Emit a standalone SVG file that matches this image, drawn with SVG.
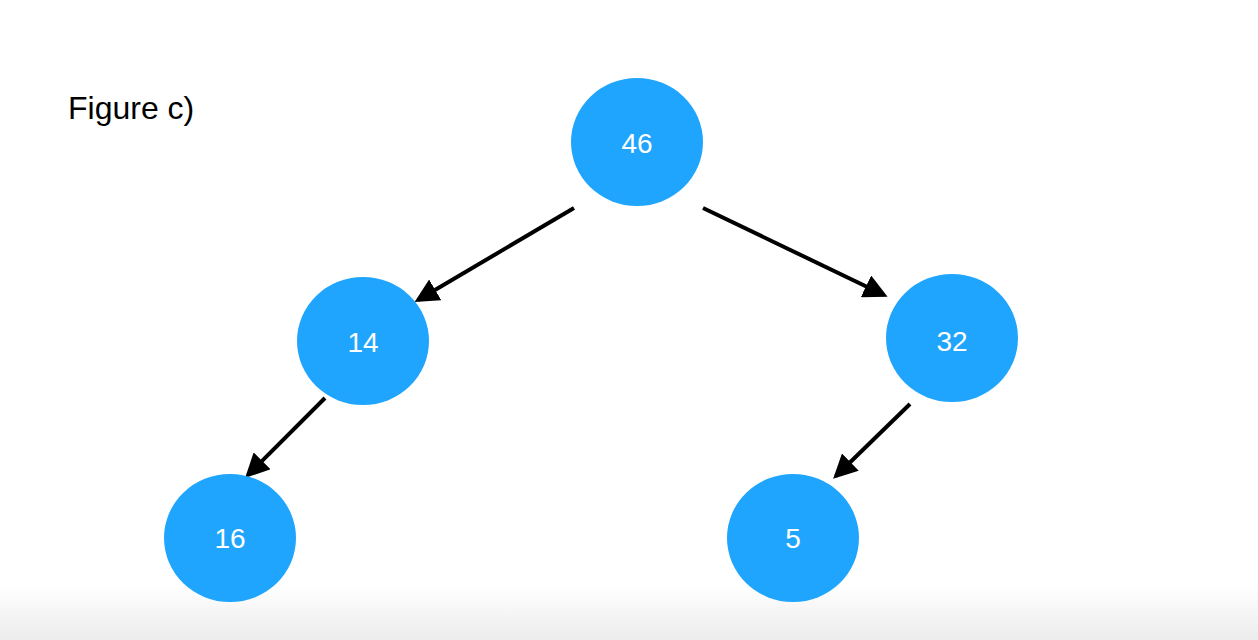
<svg xmlns="http://www.w3.org/2000/svg" width="1258" height="640" viewBox="0 0 1258 640">
<style>
.n{fill:#1fa5fd}
.t{fill:#fff;font-family:"Liberation Sans",Arial,sans-serif;font-size:28px;text-anchor:middle;dominant-baseline:central}
.e{stroke:#000;stroke-width:4;fill:none;marker-end:url(#a)}
</style>
<defs>
<marker id="a" markerWidth="6" markerHeight="6" refX="5" refY="3" orient="auto" markerUnits="strokeWidth"><path d="M0,0L6,3L0,6z" fill="#000"/></marker>
<linearGradient id="g" x1="0" y1="0" x2="0" y2="1"><stop offset="0" stop-color="#fff"/><stop offset="1" stop-color="#ececec"/></linearGradient>
</defs>
<rect width="1258" height="640" fill="#fff"/>
<rect y="585" width="1258" height="55" fill="url(#g)"/>
<text x="68" y="108" font-family="Liberation Sans,Arial,sans-serif" font-size="32" dominant-baseline="central">Figure c)</text>
<g id="edges">
<line class="e" x1="574" y1="208" x2="418" y2="300"/>
<line class="e" x1="703" y1="208" x2="884" y2="295"/>
<line class="e" x1="325" y1="398" x2="248" y2="475"/>
<line class="e" x1="910" y1="404" x2="836" y2="476"/>
</g>
<g id="n46"><ellipse class="n" cx="637" cy="142" rx="66" ry="64"/><text class="t" x="637" y="143">46</text></g>
<g id="n14"><ellipse class="n" cx="363" cy="341" rx="66" ry="64"/><text class="t" x="363" y="342">14</text></g>
<g id="n32"><ellipse class="n" cx="952" cy="338" rx="66" ry="64"/><text class="t" x="952" y="341">32</text></g>
<g id="n16"><ellipse class="n" cx="230" cy="538" rx="66" ry="64"/><text class="t" x="230" y="538">16</text></g>
<g id="n5"><ellipse class="n" cx="793" cy="538" rx="66" ry="64"/><text class="t" x="793" y="538">5</text></g>
</svg>
